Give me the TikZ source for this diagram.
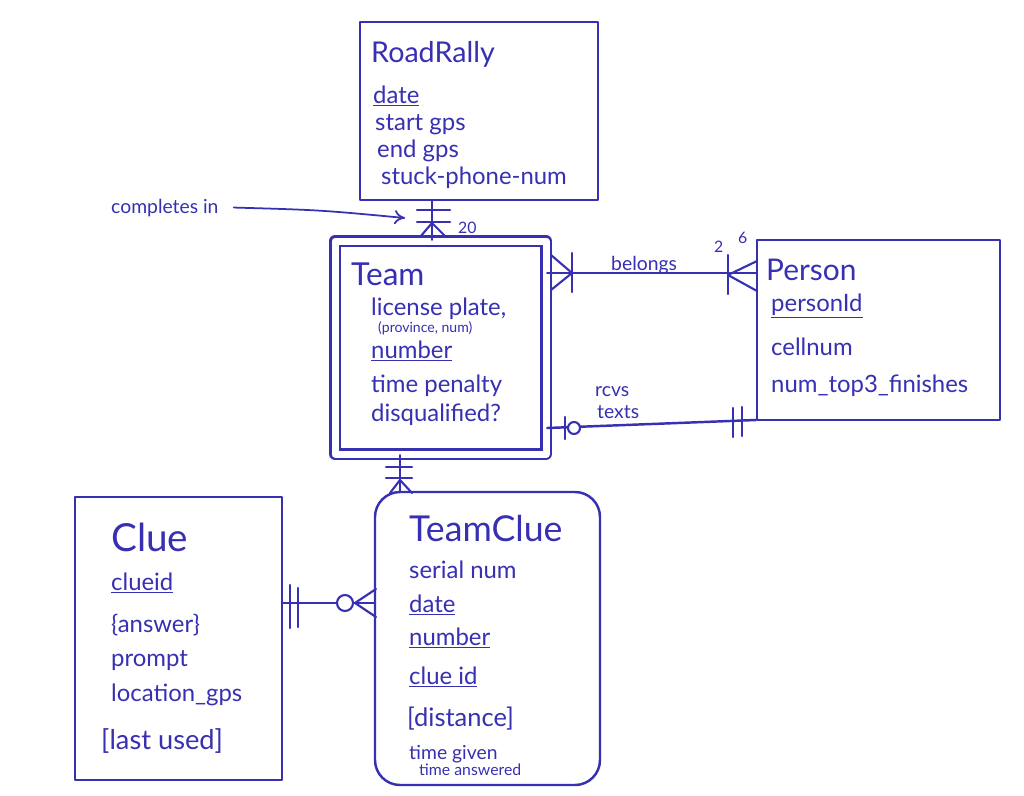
\documentclass[tikz,border=0pt]{standalone}
\usepackage{fontspec}
\setmainfont{Lato}
\usetikzlibrary{fit,arrows.meta}
\definecolor{ink}{RGB}{55,48,178}
\begin{document}
\begin{tikzpicture}[x=0.02cm,y=-0.02cm,line width=1.4pt,color=ink,line cap=round,line join=round,
  box/.style={draw,rectangle,inner sep=0pt},
  attr/.style={anchor=base west,inner sep=0pt,font=\fontsize{13.6}{15}\selectfont},
  ttl/.style={anchor=base west,inner sep=0pt,font=\fontsize{18}{20}\selectfont},
  lbl/.style={anchor=base west,inner sep=0pt,font=\fontsize{11}{13}\selectfont},
  tiny/.style={anchor=base west,inner sep=0pt,font=\fontsize{8}{9}\selectfont},
  tick/.style={line width=1.2pt}]
\useasboundingbox[fill=white] (0,0) rectangle (1024,795);

% ---------- entities ----------
\node[box,fit={(360,22) (598,200)}] (rr) {};
\node[ttl,font=\fontsize{16.3}{18}\selectfont] (rrT) at (370,62) {RoadRally};
\node[attr] (rr1) at (372,103) {\underline{date}};
\node[attr] (rr2) at (374,130) {start gps};
\node[attr] (rr3) at (376,157) {end gps};
\node[attr] (rr4) at (380,184) {stuck-phone-num};

\node[box,double,double distance=0.14cm,fit={(335,241) (546,454)}] (team) {};
\node[ttl] (teamT) at (350,285) {Team};
\node[attr] (tm1) at (370,315) {license plate,};
\node[tiny] (tm1b) at (377,332) {(province, num)};
\node[attr] (tm2) at (370,358) {\underline{number}};
\node[attr] (tm3) at (370,392) {time penalty};
\node[attr] (tm4) at (370,421) {disqualified?};

\node[box,fit={(757,240) (1000,420)}] (person) {};
\node[ttl,font=\fontsize{17}{19}\selectfont] (perT) at (765,280) {Person};
\node[attr] (pe1) at (770,311) {\underline{personId}};
\node[attr] (pe2) at (770,355) {cellnum};
\node[attr] (pe3) at (770,392) {num\_top3\_finishes};

\node[box,fit={(75,497) (282,780)}] (clue) {};
\node[ttl,font=\fontsize{22}{24}\selectfont] (clueT) at (110,551) {Clue};
\node[attr] (cl1) at (110,590) {\underline{clueid}};
\node[attr] (cl2) at (110,632) {\{answer\}};
\node[attr] (cl3) at (110,666) {prompt};
\node[attr] (cl4) at (110,701) {location\_gps};
\node[attr,font=\fontsize{15.5}{17}\selectfont] (cl5) at (100,749) {[last used]};

\node[box,rounded corners=0.5cm,fit={(375,492) (600,785)}] (tclue) {};
\node[ttl,font=\fontsize{20.3}{22}\selectfont] (tcT) at (408,541) {TeamClue};
\node[attr] (tc1) at (408,578) {serial num};
\node[attr] (tc2) at (408,612) {\underline{date}};
\node[attr] (tc3) at (408,645) {\underline{number}};
\node[attr] (tc4) at (408,684) {\underline{clue id}};
\node[attr,font=\fontsize{14.5}{16}\selectfont] (tc5) at (406,726) {[distance]};
\node[lbl] (tc6) at (408,759) {time given};
\node[tiny,font=\fontsize{9}{10}\selectfont] (tc7) at (418,775) {time answered};

% ---------- RoadRally -- Team ----------
\coordinate (cRT) at (432,0);
\draw (rr.south -| cRT) -- (team.north -| cRT);
\draw[tick] (417,210) -- (450,210) (417,222) -- (450,222);
\draw[tick] (432,223) -- (420,237) (432,223) -- (446,237);
\node[tiny,font=\fontsize{9}{10}\selectfont] (rrN) at (457,233) {20};
\node[lbl] (comp) at (110,213) {completes in};
\coordinate (compEnd) at (405,218);
\draw[line width=1pt,-{To[length=6pt,width=8pt]}] (comp.east) ++(14,0) .. controls (320,210) .. (compEnd);

% ---------- Team -- Person (belongs) ----------
\coordinate (cB) at (0,273);
\draw (team.east |- cB) -- (person.west |- cB);
\draw[tick] (551,255) -- (572,273) (551,290) -- (572,273);
\draw[tick] (572,253) -- (572,292);
\draw[tick] (728,255) -- (728,294);
\draw[tick] (728,275) -- (757,261) (728,275) -- (757,291);
\node[lbl] (bel) at (610,270) {belongs};
\node[tiny,font=\fontsize{9}{10}\selectfont] (n2) at (713,252) {2};
\node[tiny,font=\fontsize{9}{10}\selectfont] (n6) at (737,243) {6};

% ---------- Team -- Person (rcvs texts) ----------
\coordinate (cR1) at (0,428);
\coordinate (cR2) at (0,420);
\draw (team.east |- cR1) -- (person.west |- cR2);
\draw[tick] (565,417) -- (565,439);
\draw[tick,fill=white] (574,428) circle (6);
\draw[tick] (733,408) -- (733,437) (742,407) -- (742,436);
\node[lbl] (rcvs) at (594,396) {rcvs};
\node[lbl] (texts) at (596,418) {texts};

% ---------- Team -- TeamClue ----------
\coordinate (cTT) at (400,0);
\draw (team.south -| cTT) -- (tclue.north -| cTT);
\draw[tick] (386,467) -- (412,467) (386,478) -- (412,478);
\draw[tick] (400,480) -- (390,493) (400,480) -- (412,493);

% ---------- Clue -- TeamClue ----------
\coordinate (cCT) at (0,603);
\draw (clue.east |- cCT) -- (tclue.west |- cCT);
\draw[tick] (290,585) -- (290,628) (298,588) -- (298,627);
\draw[tick,fill=white] (345,603) circle (8);
\draw[tick] (355,603) -- (376,589) (355,603) -- (376,617);
\end{tikzpicture}
\end{document}
